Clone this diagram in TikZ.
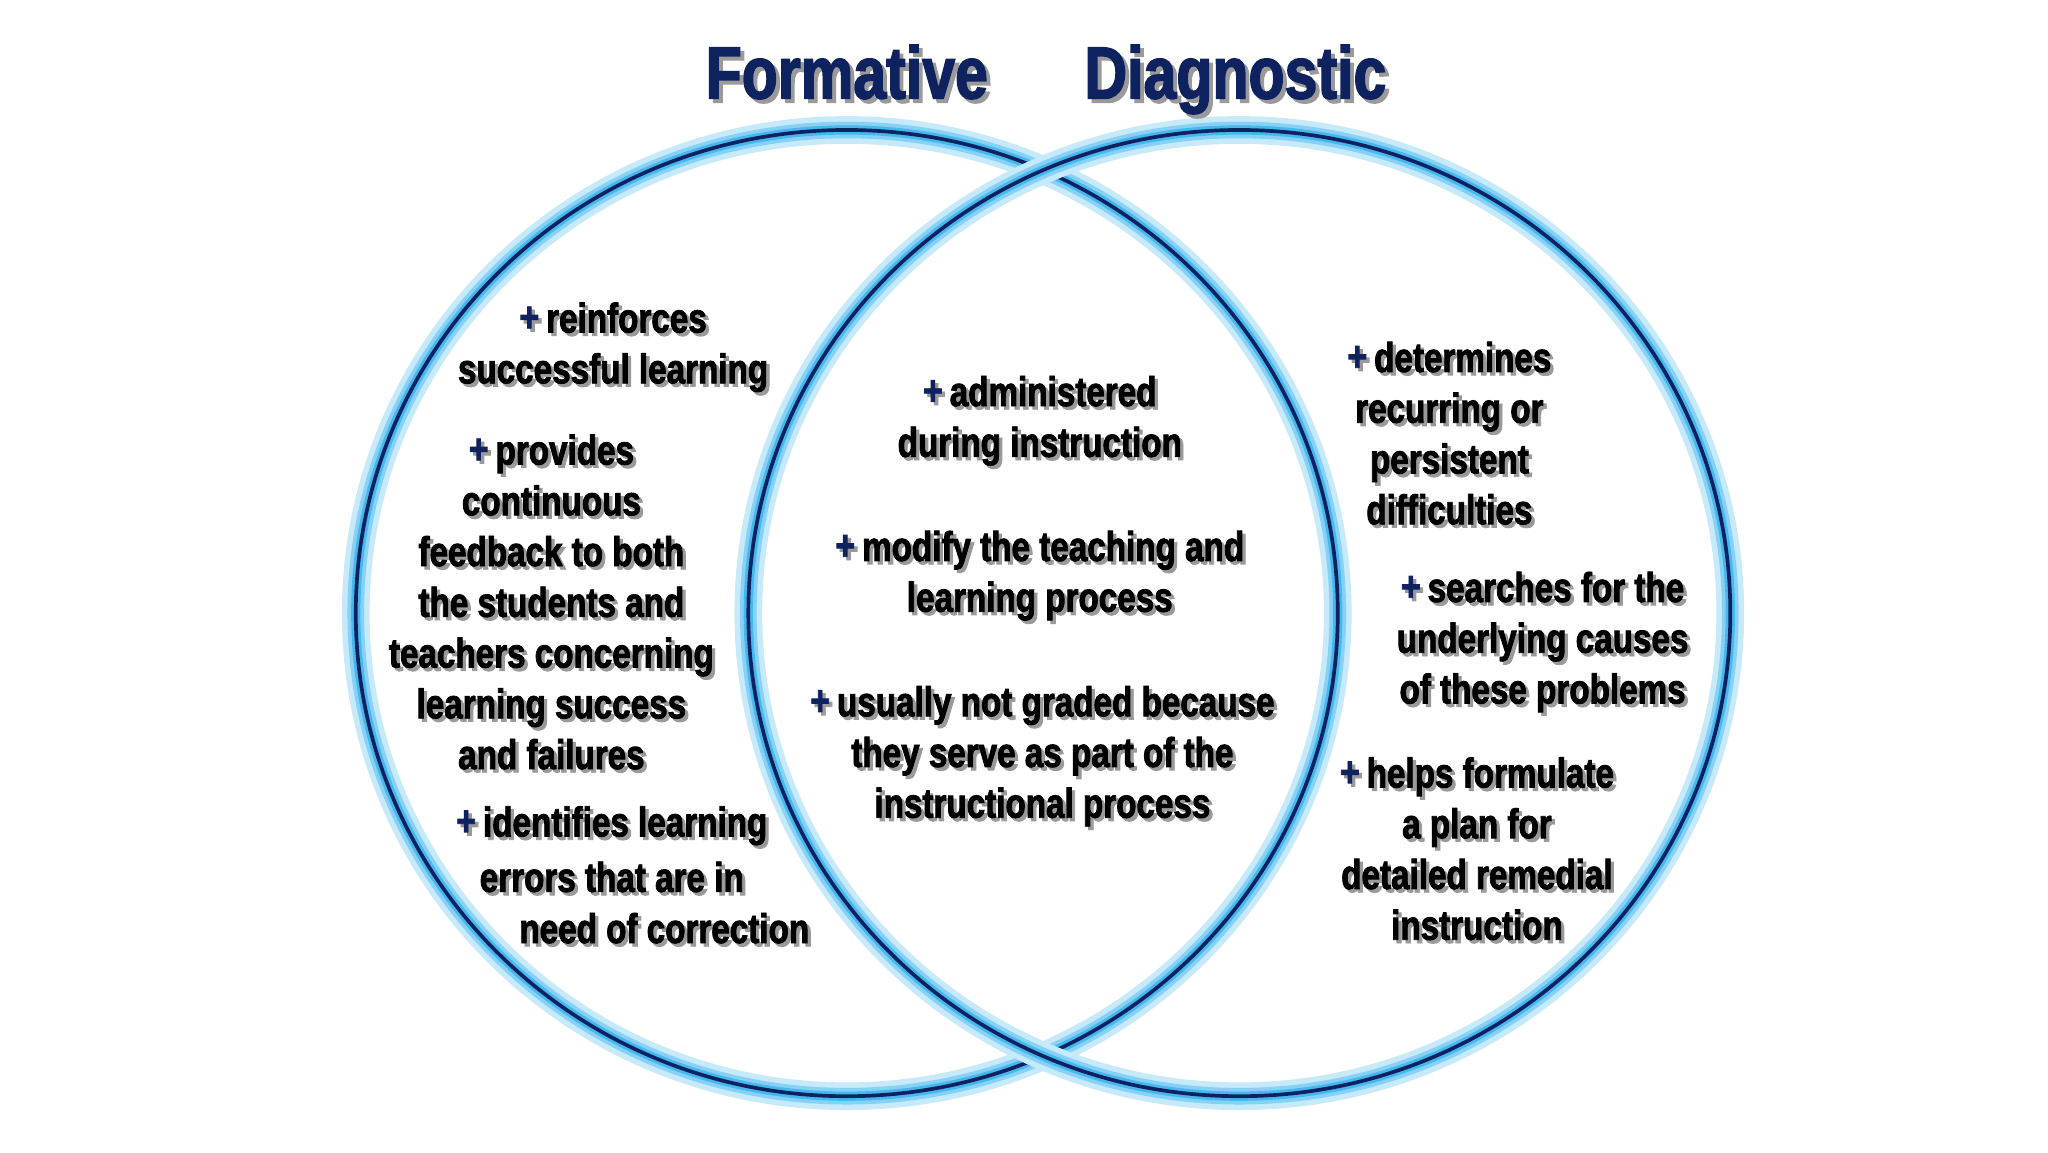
\documentclass[tikz,border=0pt]{standalone}
\usepackage{fontspec}
\setmainfont{Liberation Sans}[FakeStretch=0.8,BoldFeatures={FakeStretch=0.8,FakeBold=2}]
\definecolor{navy}{HTML}{0F2260}
\definecolor{glow}{HTML}{45B8F0}
\definecolor{shd}{HTML}{9A9A9A}
\colorlet{plc}{navy}
\newcommand\pl{{\color{plc}\fontsize{46}{54}\selectfont\raisebox{1pt}{+}}\,}
\tikzset{txt/.style={font=\fontsize{45}{55}\selectfont\bfseries,align=center,inner sep=0pt,text=black},
 ttl/.style={font=\fontsize{80}{80}\selectfont\bfseries,inner sep=0pt,text=navy,anchor=base}}
\newcommand\vt[4]{%
 \node[txt,text=shd] at (#2+2.5,#3+2.5) {\colorlet{plc}{shd}#4};
 \node[txt] (#1) at (#2,#3) {#4};}
\begin{document}
\begin{tikzpicture}[x=0.05cm,y=-0.05cm]
\useasboundingbox (0,0) rectangle (1560,878);
\fill[white] (0,0) rectangle (1560,878);
% circles
\foreach \c in {645,944}{
 \draw[glow!30,line width=30pt] (\c,467) circle[x radius=374,y radius=368];
 \draw[glow!65,line width=18pt] (\c,467) circle[x radius=374,y radius=368];
 \draw[glow,line width=10pt] (\c,467) circle[x radius=374,y radius=368];
 \draw[navy,line width=4pt] (\c,467) circle[x radius=374,y radius=368];}
\node[coordinate] (cl) at (645,467) {};
\node[coordinate] (cr) at (944,467) {};
% titles
\node[ttl,text=shd] at (648,78) {Formative};
\node[ttl] (tf) at (645,75) {Formative};
\node[ttl,text=shd] at (944,78) {Diagnostic};
\node[ttl] (td) at (941,75) {Diagnostic};
% left
\vt{l1}{467}{264.5}{\pl reinforces\\successful learning}
\vt{l2}{420}{458.5}{\pl provides\\continuous\\feedback to both\\the students and\\teachers concerning\\learning success\\and failures}
\vt{l3a}{466}{629}{\pl identifies learning}
\vt{l3b}{466}{668}{errors that are in}
\vt{l3c}{506}{707}{need of correction}
% middle
\vt{m1}{792}{320.5}{\pl administered\\during instruction}
\vt{m2}{792}{438.5}{\pl modify the teaching and\\learning process}
\vt{m3}{794}{576}{\pl usually not graded because\\they serve as part of the\\instructional process}
% right
\vt{r1}{1104}{330}{\pl determines\\recurring or\\persistent\\difficulties}
\vt{r2}{1175}{489}{\pl searches for the\\underlying causes\\of these problems}
\vt{r3}{1125}{646.5}{\pl helps formulate\\a plan for\\detailed remedial\\instruction}
\end{tikzpicture}
\end{document}
